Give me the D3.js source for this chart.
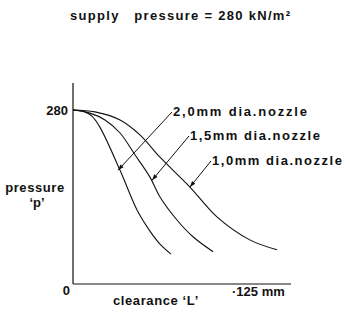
<!DOCTYPE html>
<html><head><meta charset="utf-8">
<script src="https://cdn.jsdelivr.net/npm/d3@7"></script>
<style>body{margin:0;background:#fff}svg{display:block}text{font-family:"Liberation Sans",Arial,sans-serif;font-weight:bold;fill:#111}</style>
</head><body>
<script>
// clearance (mm) vs pressure (kN/m^2)
const seriesNames = ["2,0mm  dia.nozzle", "1,5mm  dia.nozzle", "1,0mm  dia.nozzle"];
const nozzle20 = [[0,280],[0.0086,277],[0.0136,270],[0.0194,252],[0.0338,183],[0.046,119],[0.0553,85],[0.0625,64],[0.0704,48]];
const nozzle15 = [[0,280],[0.0122,275],[0.023,264],[0.0338,243],[0.0445,208],[0.0553,172],[0.0625,140],[0.0747,103],[0.0862,76],[0.1006,52]];
const nozzle10 = [[0,280],[0.0158,277],[0.0338,264],[0.0481,240],[0.0625,204],[0.084,156],[0.1034,108],[0.127,71],[0.1466,55]];
const series = [nozzle20, nozzle15, nozzle10];
// leader arrows: tip on curve (data units) -> label start
const arrowTips = [[0.0323,183],[0.0568,167],[0.084,156]];
const yTicks = [0, 280];
const xTickLabel = "·125 mm";
const xTickValue = 0.125;

const W = 350, H = 313;
const svg = d3.select("body").append("svg").attr("width", W).attr("height", H);
const x = d3.scaleLinear().domain([0, 0.125]).range([73, 247]);
const y = d3.scaleLinear().domain([0, 280]).range([284, 110]);

svg.append("defs").append("marker").attr("id","ah").attr("viewBox","0 0 10 10")
  .attr("refX",10).attr("refY",5).attr("markerWidth",6).attr("markerHeight",6).attr("orient","auto")
  .append("path").attr("d","M0,1.5L10,5L0,8.5Z").attr("fill","#111");

// axes
svg.append("line").attr("x1",x(0)).attr("x2",x(0)).attr("y1",83).attr("y2",y(0)).attr("stroke","#111").attr("stroke-width",1.2);
svg.append("line").attr("x1",x(0)).attr("x2",x(0.1566)).attr("y1",y(0)).attr("y2",y(0)).attr("stroke","#111").attr("stroke-width",1.2);

// tick labels
svg.append("text").attr("x",x(0)-5).attr("y",y(280)+5).attr("text-anchor","end").attr("font-size",13).text(String(yTicks[1]));
svg.append("text").attr("x",x(0)-3).attr("y",y(0)+11).attr("text-anchor","end").attr("font-size",13).text(String(yTicks[0]));
svg.append("text").attr("x",x(xTickValue)-15).attr("y",y(0)+12).attr("font-size",13).text(xTickLabel);

// axis titles
svg.append("text").attr("x",113).attr("y",305).attr("font-size",13).attr("letter-spacing",0.6).text("clearance \u2018L\u2019");
svg.append("text").attr("x",35).attr("y",192).attr("text-anchor","middle").attr("font-size",13).attr("letter-spacing",0.6).text("pressure");
svg.append("text").attr("x",37).attr("y",207).attr("text-anchor","middle").attr("font-size",13).text("\u2018p\u2019");

// title
svg.append("text").attr("x",70).attr("y",20).attr("font-size",13)
  .attr("textLength",220).attr("lengthAdjust","spacing").html("supply&#160;&#160; pressure = 280 kN/m\u00B2");

// curves
const line = d3.line().x(d=>x(d[0])).y(d=>y(d[1])).curve(d3.curveCatmullRom.alpha(0.5));
svg.selectAll("path.c").data(series).join("path").attr("class","c")
  .attr("d", line).attr("fill","none").attr("stroke","#111").attr("stroke-width",1.1);

// labels + leaders
const labelPos = [[173,116,134],[190,140,130],[212,165,130]];
seriesNames.forEach((n,i)=>{
  const [lx,ly,lw] = labelPos[i];
  svg.append("text").attr("x",lx).attr("y",ly).attr("font-size",13)
    .attr("textLength",lw).attr("lengthAdjust","spacing").text(n);
  svg.append("line").attr("x1",lx-1).attr("y1",ly-4)
    .attr("x2",x(arrowTips[i][0])).attr("y2",y(arrowTips[i][1]))
    .attr("stroke","#111").attr("stroke-width",1).attr("marker-end","url(#ah)");
});
</script>
</body></html>
